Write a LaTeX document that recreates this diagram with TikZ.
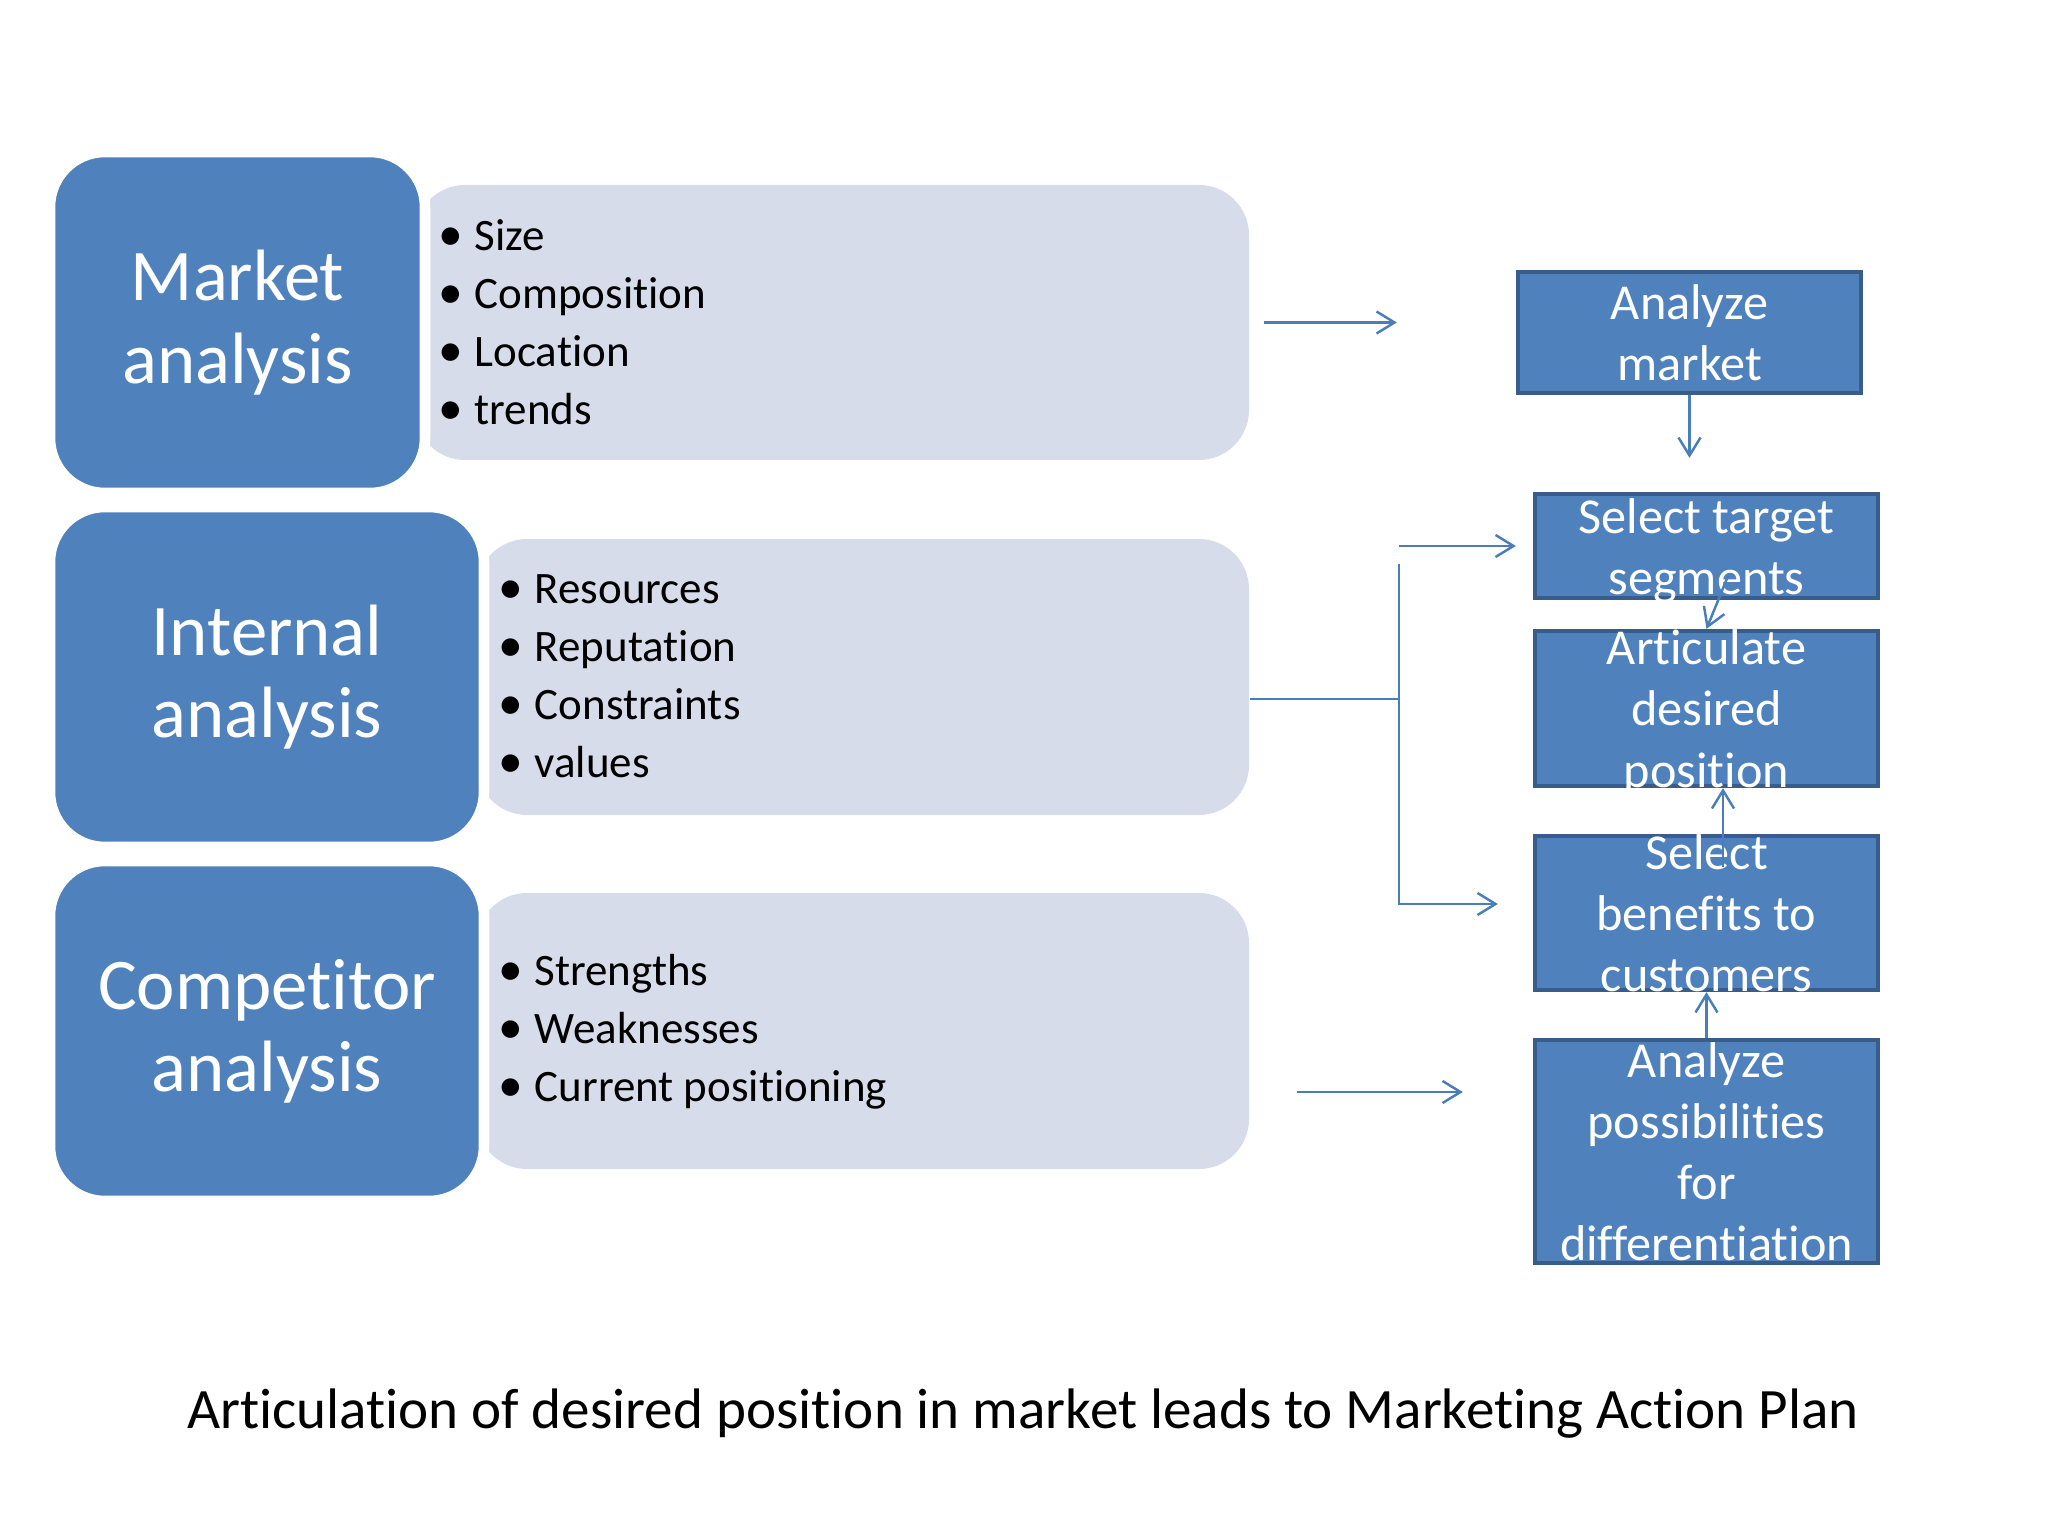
\documentclass[tikz,border=0pt]{standalone}
\usepackage{fontspec}
\setmainfont[RawFeature={-liga;-clig;-calt;-rlig;-dlig}]{Carlito}
\usepackage{tikz}
\usetikzlibrary{positioning, arrows.meta, calc}
\definecolor{MABlue}{RGB}{79,129,189}
\definecolor{MAEdge}{RGB}{56,93,138}
\definecolor{MALight}{RGB}{214,220,233}
\definecolor{MALine}{RGB}{74,126,187}
\newcommand{\itemdot}{\makebox[0.36cm][l]{\scalebox{1.1}{\textbullet}}}

\begin{document}
\begin{tikzpicture}[x=1cm, y=-1cm,
    headbox/.style={rectangle, rounded corners=0.55cm, fill=MABlue, draw=white,
                    line width=3pt, text=white, align=center,
                    font=\fontsize{20.7}{23.4}\selectfont},
    listbox/.style={rectangle, rounded corners=0.5cm, fill=MALight},
    listtext/.style={anchor=west, inner sep=0pt, align=left,
                     font=\fontsize{12.8}{16.5}\selectfont},
    stepbox/.style={rectangle, fill=MABlue, draw=MAEdge, line width=1.2pt,
                    minimum width=3.43cm},
    steptext/.style={text=white, align=center, inner sep=0pt,
                     font=\fontsize{14.3}{17.4}\selectfont},
    flow/.style={MALine, line width=0.7pt},
    flowarr/.style={flow, -{Straight Barb[length=1.8mm, width=2.2mm]}}]
        \useasboundingbox (0,0) rectangle (20.48,15.36);

        % Market analysis
        \node[listbox, minimum width=8.34cm, minimum height=2.75cm] (mkt-list)
              at (8.32,3.225) {};
        \node[headbox, minimum width=3.75cm, minimum height=3.41cm] (mkt)
              at (2.375,3.225) {Market\\analysis};
        \node[listtext] (mkt-items) at (4.38,3.22)
              {\itemdot Size\\\itemdot Composition\\\itemdot Location\\\itemdot trends};

        % Internal analysis
        \node[listbox, minimum width=7.72cm, minimum height=2.76cm] (int-list)
              at (8.63,6.77) {};
        \node[headbox, minimum width=4.34cm, minimum height=3.40cm] (int)
              at (2.67,6.77) {Internal\\analysis};
        \node[listtext] (int-items) at (4.98,6.765)
              {\itemdot Resources\\\itemdot Reputation\\\itemdot Constraints\\\itemdot values};

        % Competitor analysis
        \node[listbox, minimum width=7.72cm, minimum height=2.76cm] (comp-list)
              at (8.63,10.31) {};
        \node[headbox, minimum width=4.34cm, minimum height=3.40cm] (comp)
              at (2.67,10.31) {Competitor\\analysis};
        \node[listtext] (comp-items) at (4.98,10.32)
              {\itemdot Strengths\\\itemdot Weaknesses\\\itemdot Current positioning};

        % Steps
        \node[stepbox, minimum height=1.21cm] (amkt) at (16.895,3.325) {};
        \node[steptext] (amkt-t) at (amkt) {Analyze\\market};
        \node[stepbox, minimum height=1.04cm] (tgt) at (17.065,5.46) {};
        \node[steptext, yshift=-0.05cm] (tgt-t) at (tgt) {Select target\\segments};
        \node[stepbox, minimum height=1.55cm] (pos) at (17.065,7.085) {};
        \node[steptext, yshift=-0.04cm] (pos-t) at (pos) {Articulate\\desired\\position};
        \node[stepbox, minimum height=1.54cm] (ben) at (17.065,9.13) {};
        \node[steptext] (ben-t) at (ben) {Select\\benefits to\\customers};
        \node[stepbox, minimum height=2.23cm] (diff) at (17.065,11.515) {};
        \node[steptext] (diff-t) at (diff)
              {Analyze\\possibilities\\for\\differentiation};

        % Arrows
        \draw[flowarr, shorten <=0.14cm, shorten >=1.19cm]
          (mkt-list.east) -- (mkt-list.east -| amkt.west);
        \draw[flowarr, shorten >=0.34cm] (amkt.south) -- (amkt.south |- tgt.north);

        \coordinate (split) at (13.99,6.99);
        \coordinate (split-top) at (13.99,5.64);
        \coordinate (split-bot) at (13.99,9.04);
        \draw[flow] (int-list.east |- split) -- (split);
        \draw[flowarr, shorten >=0.17cm] (split |- tgt.west) -- (tgt.west);
        \draw[flowarr, shorten >=0.35cm]
          (split-top) -- (split-bot) -- (split-bot -| ben.west);

        \coordinate (seg-in) at (17.28,5.76);
        \draw[flowarr] (seg-in) -- (pos.north);
        \coordinate (ben-in) at (17.23,8.67);
        \draw[flowarr] (ben-in) -- (ben-in |- pos.south);
        \draw[flowarr] (diff.north) -- (ben.south);

        \coordinate (comp-out) at (12.97,10.92);
        \draw[flowarr, shorten >=0.70cm] (comp-out) -- (comp-out -| diff.west);

        % Caption
        \node[font=\fontsize{16.25}{19}\selectfont] (caption) at (10.23,14.14)
              {Articulation of desired position in market leads to Marketing Action Plan};
      \end{tikzpicture}
\end{document}
